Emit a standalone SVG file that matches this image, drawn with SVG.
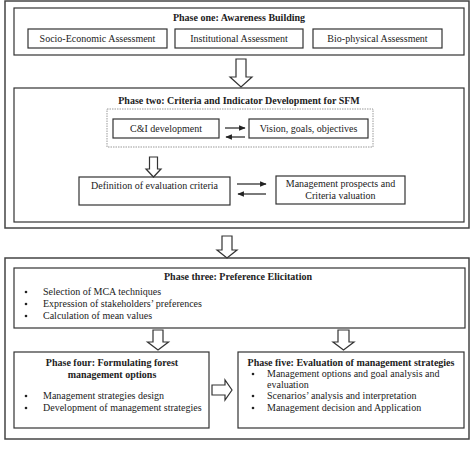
<svg xmlns="http://www.w3.org/2000/svg" width="474" height="452" viewBox="0 0 474 452">
<defs>
<style>
.frame{fill:none;stroke:#444;stroke-width:1.5}
.box{fill:#fff;stroke:#333;stroke-width:1.2}
.dot{fill:none;stroke:#999;stroke-width:1;stroke-dasharray:1.5,1}
.t{font-family:"Liberation Serif","Times New Roman",serif;font-size:10px;fill:#222}
.b{font-weight:bold}
.m{text-anchor:middle}
.hollow{fill:#fff;stroke:#333;stroke-width:1.2;stroke-linejoin:miter}
.ln{stroke:#222;stroke-width:1.2;fill:none}
</style>
<marker id="ah" viewBox="0 0 10 10" refX="9" refY="5" markerWidth="5.5" markerHeight="5.5" orient="auto">
<path d="M0,1 L10,5 L0,9 z" fill="#222"/>
</marker>
</defs>
<rect width="474" height="452" fill="#fff"/>

<rect class="frame" x="5" y="1" width="464" height="227"/>
<rect class="frame" x="5" y="258" width="464" height="181"/>

<g id="phase1">
<rect class="box" x="14" y="8" width="450" height="47"/>
<text class="t b m" x="239" y="21">Phase one: Awareness Building</text>
</g>
<g id="socio"><rect class="box" x="28" y="29" width="139" height="19"/><text class="t m" x="97.5" y="42">Socio-Economic Assessment</text></g>
<g id="inst"><rect class="box" x="175" y="29" width="128" height="19"/><text class="t m" x="239" y="42">Institutional Assessment</text></g>
<g id="bio"><rect class="box" x="313" y="29" width="129" height="19"/><text class="t m" x="377.5" y="42">Bio-physical Assessment</text></g>

<g id="phase2">
<rect class="box" x="14" y="88" width="450" height="134"/>
<text class="t b m" x="239" y="104">Phase two: Criteria and Indicator Development for SFM</text>
<rect class="dot" x="107" y="109" width="266" height="38"/>
</g>
<g id="ci"><rect class="box" x="113" y="119" width="106" height="19"/><text class="t m" x="166" y="132">C&amp;I development</text></g>
<g id="vision"><rect class="box" x="249" y="119" width="119" height="19"/><text class="t m" x="308.5" y="132">Vision, goals, objectives</text></g>
<g id="definition"><rect class="box" x="79" y="177" width="151" height="28"/><text class="t m" x="154.5" y="189">Definition of evaluation criteria</text></g>
<g id="mgmt"><rect class="box" x="276" y="176" width="129" height="28"/><text class="t m" x="340.5" y="187">Management prospects and</text><text class="t m" x="340.5" y="199">Criteria valuation</text></g>

<g id="phase3">
<rect class="box" x="14" y="268" width="451" height="60"/>
<text class="t b m" x="238" y="280">Phase three: Preference Elicitation</text>
<circle cx="26" cy="292" r="1.3" fill="#222"/><text class="t" x="43" y="295">Selection of MCA techniques</text>
<circle cx="26" cy="304" r="1.3" fill="#222"/><text class="t" x="43" y="307">Expression of stakeholders’ preferences</text>
<circle cx="26" cy="316" r="1.3" fill="#222"/><text class="t" x="43" y="319">Calculation of mean values</text>
</g>

<g id="phase4">
<rect class="box" x="14" y="352" width="195" height="76"/>
<text class="t b m" x="112" y="366">Phase four: Formulating forest</text>
<text class="t b m" x="112" y="378">management options</text>
<circle cx="26" cy="396" r="1.3" fill="#222"/><text class="t" x="43" y="399">Management strategies design</text>
<circle cx="26" cy="408" r="1.3" fill="#222"/><text class="t" x="43" y="411">Development of management strategies</text>
</g>

<g id="phase5">
<rect class="box" x="238" y="352" width="226" height="76"/>
<text class="t b m" x="351" y="366">Phase five: Evaluation of management strategies</text>
<circle cx="253" cy="374" r="1.3" fill="#222"/><text class="t" x="267" y="377">Management options and goal analysis and</text>
<text class="t" x="267" y="388">evaluation</text>
<circle cx="253" cy="396" r="1.3" fill="#222"/><text class="t" x="267" y="399">Scenarios’ analysis and interpretation</text>
<circle cx="253" cy="408" r="1.3" fill="#222"/><text class="t" x="267" y="411">Management decision and Application</text>
</g>

<g id="connectors">
<polygon class="hollow" points="236,59 246,59 246,77 252,77 241,87 230,77 236,77"/>
<polygon class="hollow" points="222,236 232,236 232,250 237,250 227,258 217,250 222,250"/>
<polygon class="hollow" points="149.5,157 157.5,157 157.5,169 161,169 153.5,177 146,169 149.5,169"/>
<polygon class="hollow" points="153,330 163,330 163,342 168.5,342 158,350 147.5,342 153,342"/>
<polygon class="hollow" points="338,330 349,330 349,342 354,342 343.5,350 333,342 338,342"/>
<polygon class="hollow" points="212,385 225,385 225,380 232,390 225,400 225,395 212,395"/>
<line class="ln" x1="225" y1="128" x2="245" y2="128" marker-end="url(#ah)"/>
<line class="ln" x1="245" y1="137" x2="226" y2="137" marker-end="url(#ah)"/>
<line class="ln" x1="237" y1="184" x2="266" y2="184" marker-end="url(#ah)"/>
<line class="ln" x1="266" y1="194" x2="238" y2="194" marker-end="url(#ah)"/>
</g>
</svg>
